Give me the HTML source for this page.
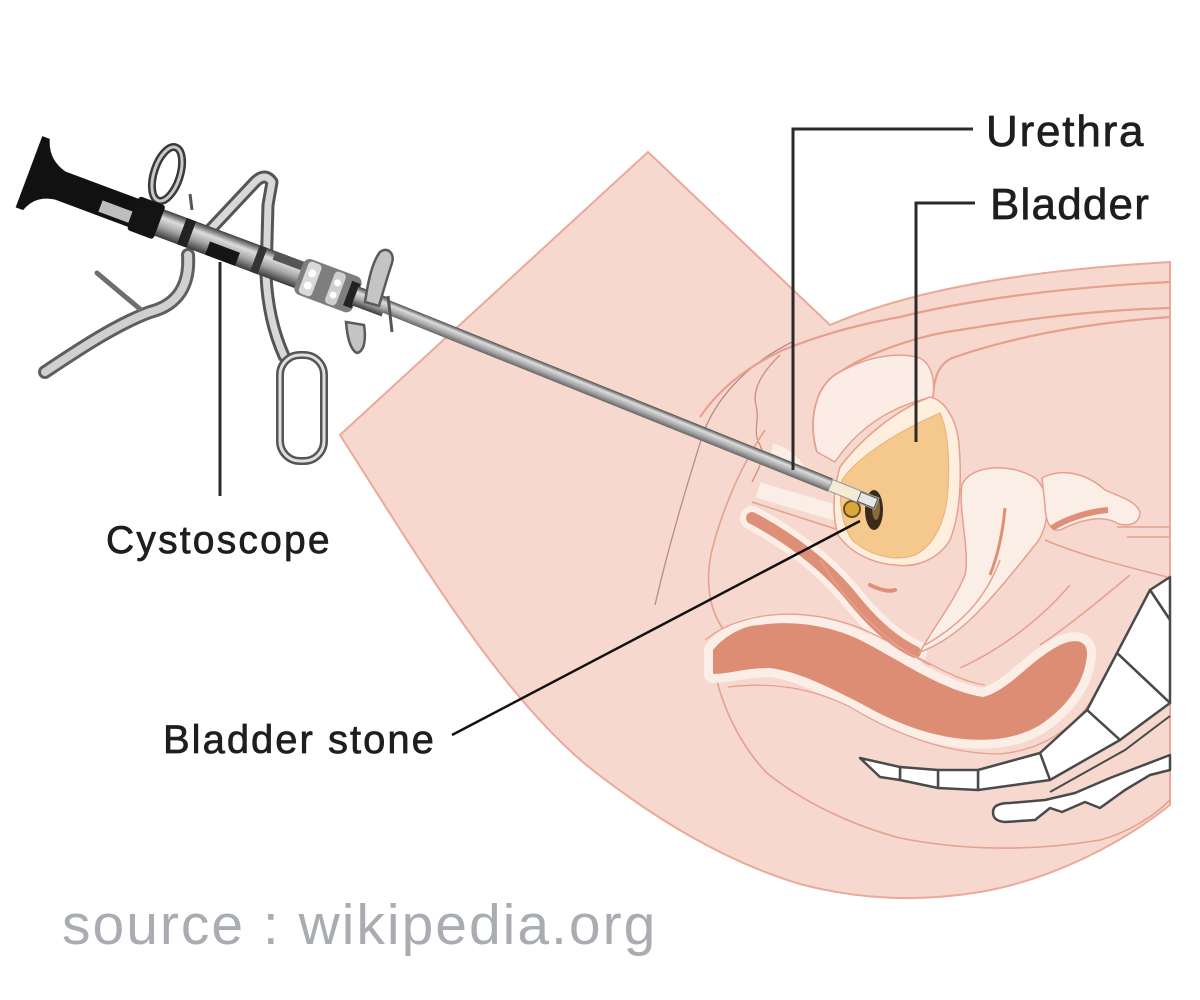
<!DOCTYPE html>
<html>
<head>
<meta charset="utf-8">
<style>
html,body{margin:0;padding:0;background:#fff;}
svg{display:block;}
text{font-family:"Liberation Sans", Arial, sans-serif;}
</style>
</head>
<body>
<svg width="1200" height="1000" viewBox="0 0 1200 1000" xmlns="http://www.w3.org/2000/svg">
<defs>
  <linearGradient id="silver" x1="0" y1="0" x2="0" y2="1">
    <stop offset="0" stop-color="#3e3e3e"/>
    <stop offset="0.3" stop-color="#dcdcdc"/>
    <stop offset="0.6" stop-color="#a8a8a8"/>
    <stop offset="1" stop-color="#3a3a3a"/>
  </linearGradient>
  <linearGradient id="shaft" x1="0" y1="0" x2="0" y2="1">
    <stop offset="0" stop-color="#4a4a4a"/>
    <stop offset="0.3" stop-color="#dcdcdc"/>
    <stop offset="0.65" stop-color="#a9a9a9"/>
    <stop offset="1" stop-color="#666"/>
  </linearGradient>
</defs>
<rect width="1200" height="1000" fill="#fff"/>

<!-- Body + leg silhouette -->
<path d="M 340,435 L 648,152 L 830,325 C 900,295 1000,272 1170,262 L 1170,805 C 1120,845 1050,880 980,892 C 920,902 860,900 800,884 C 720,860 650,815 590,768 C 500,695 420,560 340,435 Z" fill="#f6d8cf" stroke="#eba999" stroke-width="2"/>

<!-- thin lines in leg (labia) -->
<path d="M 792,342 C 748,364 714,398 701,440 C 688,482 670,540 655,605" fill="none" stroke="#b98c83" stroke-width="1.3"/>
<path d="M 780,355 C 762,372 752,390 756,405 C 760,420 752,432 760,445 C 766,458 758,470 752,482" fill="none" stroke="#c88f82" stroke-width="1.3"/>

<!-- body top lines -->
<path d="M 700,417 C 715,395 740,370 783,350 C 820,335 860,324 900,317 C 960,302 1050,288 1170,282" fill="none" stroke="#e6a08e" stroke-width="2.2"/>
<path d="M 817,452 C 808,420 815,385 840,372 C 870,352 920,335 960,330 C 1030,318 1100,310 1170,308" fill="none" stroke="#e6a08e" stroke-width="2.2"/>
<path d="M 933,397 C 934,375 940,362 955,357 C 990,345 1060,325 1170,317" fill="none" stroke="#e6a08e" stroke-width="2.2"/>

<!-- pubic crescent -->
<path d="M 817,452 C 808,420 815,385 840,372 C 870,355 900,352 920,358 C 932,365 935,380 933,397 C 895,405 860,425 835,462 Z" fill="#fbede6" stroke="#e6a08e" stroke-width="1.5"/>

<!-- perineum contour -->
<path d="M 765,430 C 745,460 725,500 712,550 C 705,580 708,610 726,633" fill="none" stroke="#e6a08e" stroke-width="1.6"/>
<path d="M 713,655 C 715,690 735,740 767,773 C 800,800 850,825 900,838 C 960,850 1030,852 1100,840 C 1130,832 1155,815 1170,800" fill="none" stroke="#e6a08e" stroke-width="1.6"/>

<!-- urethra band (below shaft) -->
<path d="M 758,490 L 850,517" fill="none" stroke="#fbeee6" stroke-width="16"/>
<path d="M 752,502 L 845,532" fill="none" stroke="#e6a08e" stroke-width="1.5"/>
<path d="M 772,448 C 785,452 795,460 800,470" fill="none" stroke="#fbeee6" stroke-width="10"/>

<!-- vagina -->
<path d="M 752,518 C 790,538 825,565 850,595 C 870,620 890,640 915,652" fill="none" stroke="#fbeee6" stroke-width="24" stroke-linecap="round"/>
<path d="M 752,518 C 790,538 825,565 850,595 C 870,620 890,640 915,652" fill="none" stroke="#df8f77" stroke-width="12" stroke-linecap="round"/>
<path d="M 870,585 C 880,590 888,592 895,590" fill="none" stroke="#df8f77" stroke-width="4" stroke-linecap="round"/>

<!-- bladder -->
<path d="M 930,397 C 945,400 957,420 959,445 C 962,480 960,515 950,540 C 938,560 915,568 895,565 C 870,563 850,552 838,535 C 832,515 833,490 840,467 C 860,440 895,410 930,397 Z" fill="#fdeedd" stroke="#e6a08e" stroke-width="1.5"/>
<path d="M 940,413 C 948,430 950,460 948,490 C 946,520 935,545 915,555 C 895,562 870,556 852,540 C 842,525 838,500 842,480 C 855,460 890,435 940,413 Z" fill="#f5c88e" stroke="#eab277" stroke-width="1"/>

<!-- uterus -->
<path d="M 962,485 C 970,465 1010,462 1035,478 C 1052,492 1050,528 1035,545 C 1015,570 995,595 975,615 C 960,630 940,645 920,652 C 935,625 955,600 965,575 C 970,550 958,510 962,485 Z" fill="#fbeee6" stroke="#e6a08e" stroke-width="1.5"/>
<path d="M 1005,508 C 1003,530 998,555 990,575" fill="none" stroke="#df8f77" stroke-width="3"/>
<!-- ovary / tube -->
<path d="M 1042,478 C 1060,468 1085,472 1105,490 C 1120,497 1135,500 1140,512 C 1140,525 1125,528 1115,522 C 1100,515 1080,520 1060,530 C 1050,532 1045,520 1045,505 Z" fill="#fbeee6" stroke="#e6a08e" stroke-width="1.5"/>
<path d="M 1052,528 C 1065,520 1085,512 1108,510" fill="none" stroke="#df8f77" stroke-width="6"/>
<path d="M 1117,527 L 1170,527 M 1127,537 L 1170,537" stroke="#e6a08e" stroke-width="1.5"/>

<!-- pelvic curves -->
<path d="M 1000,560 C 985,600 960,625 925,645" fill="none" stroke="#e6a08e" stroke-width="1.5"/>
<path d="M 1070,585 C 1040,620 1000,650 960,668" fill="none" stroke="#e6a08e" stroke-width="1.5"/>
<path d="M 1045,540 C 1080,555 1120,565 1167,577" fill="none" stroke="#e6a08e" stroke-width="1.5"/>
<path d="M 1130,575 C 1100,600 1070,625 1040,645" fill="none" stroke="#e6a08e" stroke-width="1.5"/>
<path d="M 820,560 C 845,600 880,640 930,665" fill="none" stroke="#e6a08e" stroke-width="1.3"/>

<!-- rectum -->
<path d="M 713,650 C 725,635 745,625 760,625 C 790,620 830,625 860,640 C 900,660 940,690 983,697 C 1010,690 1030,660 1060,645 C 1075,638 1088,640 1087,655 C 1085,680 1070,705 1040,725 C 1015,740 985,742 955,738 C 920,733 890,720 860,703 C 830,688 800,672 770,668 C 745,668 730,674 713,674 Z" fill="#fbeee6" stroke="#fbeee6" stroke-width="18" stroke-linejoin="round"/>
<path d="M 713,650 C 725,635 745,625 760,625 C 790,620 830,625 860,640 C 900,660 940,690 983,697 C 1010,690 1030,660 1060,645 C 1075,638 1088,640 1087,655 C 1085,680 1070,705 1040,725 C 1015,740 985,742 955,738 C 920,733 890,720 860,703 C 830,688 800,672 770,668 C 745,668 730,674 713,674 Z" fill="#de8d75"/>
<path d="M 705,640 C 740,612 800,605 860,628 C 910,650 950,680 985,685" fill="none" stroke="#e6a08e" stroke-width="1.3"/>
<path d="M 728,687 C 770,682 810,687 850,707 C 900,737 950,754 1000,754 C 1040,750 1070,732 1092,700" fill="none" stroke="#e6a08e" stroke-width="1.3"/>

<!-- sacrum blocks -->
<g fill="#fff" stroke="#4a4a4a" stroke-width="2.5" stroke-linejoin="round">
  <path d="M 1150,590 L 1170,577 L 1170,620 Z"/>
  <path d="M 1150,590 L 1170,620 L 1170,703 L 1117,653 Z"/>
  <path d="M 1117,653 L 1170,703 L 1120,740 L 1087,710 Z"/>
  <path d="M 1087,710 L 1120,740 L 1050,780 L 1040,753 Z"/>
  <path d="M 1040,753 L 1050,780 L 978,790 L 978,770 Z"/>
  <path d="M 978,770 L 978,790 L 938,788 L 938,770 Z"/>
  <path d="M 938,770 L 938,788 L 900,780 L 900,767 Z"/>
  <path d="M 900,767 L 900,780 L 880,777 L 860,758 Z"/>
  <path d="M 993,812 C 993,805 1000,803 1010,803 L 1045,800 L 1075,793 L 1110,778 L 1170,755 L 1170,770 L 1150,775 L 1125,790 L 1100,808 L 1085,802 L 1062,812 L 1050,808 L 1035,820 L 1005,822 C 995,821 993,817 993,812 Z"/>
</g>
<path d="M 1050,792 L 1125,750 L 1170,716" fill="none" stroke="#4a4a4a" stroke-width="2"/>

<!-- stone -->
<ellipse cx="874" cy="510" rx="9" ry="20" fill="#3b2b18"/>
<ellipse cx="876" cy="508" rx="4" ry="12" fill="#8a6a3a"/>
<circle cx="852" cy="509" r="8" fill="#d9a83a" stroke="#6b4e1a" stroke-width="2"/>

<!-- cystoscope shaft -->
<g transform="translate(360,296) rotate(21.9)">
  <rect x="0" y="-7" width="507" height="14" fill="url(#shaft)"/>
  <rect x="507" y="-6" width="50" height="12" fill="#f4ead6" stroke="#9a9a9a" stroke-width="1"/>
  <rect x="538" y="-5" width="18" height="10" fill="#e6e6e6" stroke="#555" stroke-width="1"/>
</g>

<!-- trigger handle -->
<path d="M 188,255 C 190,285 178,305 150,312 C 115,325 75,352 45,372" fill="none" stroke="#5e5e5e" stroke-width="14" stroke-linecap="round"/>
<path d="M 188,255 C 190,285 178,305 150,312 C 115,325 75,352 45,372" fill="none" stroke="#d0d0d0" stroke-width="8" stroke-linecap="round"/>
<path d="M 97,273 L 140,309" fill="none" stroke="#6e6e6e" stroke-width="5" stroke-linecap="round"/>

<!-- ring -->
<ellipse cx="167" cy="174" rx="13" ry="28" transform="rotate(18 167 174)" fill="none" stroke="#3a3a3a" stroke-width="8"/>
<ellipse cx="167" cy="174" rx="13" ry="28" transform="rotate(18 167 174)" fill="none" stroke="#c8c8c8" stroke-width="3"/>

<!-- scissor arm -->
<path d="M 210,230 L 255,182 Q 265,172 272,182 L 268,205 L 266,275 Q 268,320 284,356" fill="none" stroke="#555" stroke-width="13" stroke-linejoin="round" stroke-linecap="round"/>
<path d="M 210,230 L 255,182 Q 265,172 272,182 L 268,205 L 266,275 Q 268,320 284,356" fill="none" stroke="#d8d8d8" stroke-width="7" stroke-linejoin="round" stroke-linecap="round"/>
<rect x="280" y="355" width="44" height="106" rx="20" fill="none" stroke="#555" stroke-width="8"/>
<rect x="280" y="355" width="44" height="106" rx="20" fill="none" stroke="#e0e0e0" stroke-width="3"/>

<!-- scope body in rotated frame -->
<g transform="translate(32,175) rotate(20.5)">
  <rect x="130" y="-14" width="160" height="28" fill="url(#silver)"/>
  <rect x="160" y="-14" width="10" height="28" fill="#222"/>
  <rect x="190" y="0" width="32" height="14" fill="#151515"/>
  <rect x="238" y="-14" width="8" height="28" fill="#333"/>
  <rect x="255" y="-14" width="30" height="9" fill="#555"/>
  <path d="M -4,-40 L 4,-40 Q 10,-20 30,-15 L 112,-15 L 112,15 L 30,15 Q 10,18 4,36 L -4,36 Z" fill="#111"/>
  <rect x="75" y="-1" width="32" height="12" fill="#bdbdbd"/>
  <rect x="108" y="-18" width="28" height="36" rx="3" fill="#141414"/>
  <!-- connector -->
  <rect x="285" y="-19" width="62" height="38" rx="7" fill="#7e7e7e"/>
  <rect x="290" y="-17" width="14" height="34" rx="4" fill="#d9d9d9"/>
  <rect x="318" y="-17" width="12" height="34" rx="4" fill="#cfcfcf"/>
  <circle cx="297" cy="-6" r="4" fill="#fff"/>
  <circle cx="297" cy="7" r="4" fill="#fff"/>
  <circle cx="324" cy="-6" r="3.5" fill="#fff"/>
  <circle cx="324" cy="7" r="3.5" fill="#fff"/>
  <rect x="337" y="-13" width="9" height="26" fill="#222"/>
  <rect x="345" y="-10" width="32" height="20" fill="url(#silver)"/>
</g>

<!-- wings -->
<path d="M 365,302 C 368,282 372,262 380,252 C 388,246 395,254 392,263 C 387,278 383,292 379,306 Z" fill="#c4c4c4" stroke="#5a5a5a" stroke-width="2.5"/>
<path d="M 346,322 C 347,335 350,350 357,353 C 365,351 366,338 364,325 Z" fill="#c4c4c4" stroke="#5a5a5a" stroke-width="2.5"/>
<path d="M 388,296 L 392,332 M 190,194 L 192,210" stroke="#555" stroke-width="3"/>

<!-- label lines -->
<g stroke="#2a2a2a" stroke-width="3" fill="none">
  <path d="M 973,129 L 793,129 L 793,470"/>
  <path d="M 975,203 L 916,203 L 916,442"/>
  <path d="M 220,262 L 220,496"/>
</g>
<path d="M 452,735 L 860,521" stroke="#111" stroke-width="2.5"/>

<!-- labels -->
<g fill="#1e1e1e" stroke="#1e1e1e" stroke-width="0.7">
  <text x="986" y="146" font-size="44" letter-spacing="1.8">Urethra</text>
  <text x="990" y="219" font-size="44" letter-spacing="1.2">Bladder</text>
  <text x="106" y="553" font-size="39" letter-spacing="2.2">Cystoscope</text>
  <text x="163" y="753" font-size="40" letter-spacing="2">Bladder stone</text>
</g>
<text x="62" y="944" font-size="57" letter-spacing="2" fill="#a9adb1">source : wikipedia.org</text>
</svg>
</body>
</html>
